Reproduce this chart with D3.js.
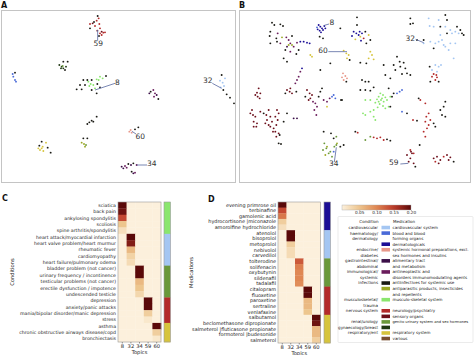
<!DOCTYPE html>
<html><head><meta charset="utf-8">
<script src="https://cdn.jsdelivr.net/npm/d3@7"></script>
<style>body{margin:0;background:#fff}svg{display:block;font-family:"DejaVu Sans",sans-serif}</style>
</head><body><svg id="c" width="474" height="355"></svg>
<script>
// ---------- categories (legend) ----------
const catColors = ["#a4c6f2","#4a6ad8","#1c0f96","#e8988a","#3b0f48","#6a1c5c","#1a1a14","#9aa824","#8ae66e","#b32a2a","#6c0e1a","#6a983a","#1f3812","#d6c43c","#7a5030"];
const legendCond = ["cardiovascular","haematology/","dermatology","","endocrine/","diabetes","gastrointestinal/","abdominal","immunological/","systemic","infections","","","musculoskeletal/","trauma","nervous system","","renal/urology","gynaecology/breast","respiratory/ent",""];
const legendMed = ["cardiovascular system","blood and blood","forming organs","dermatologicals","systemic hormonal preparations, excl.","sex hormones and insulins","alimentary tract","and metabolism","antineoplastic and","disorders  immunomodulating agents","antiinfectives for systemic use","antiparasitic products, insecticides","and repellents","musculo-skeletal system","","neurology/psychiatry","sensory organs","genito urinary system and sex hormones","","respiratory system","various"];
const legendSwatch = [0,1,-1,2,3,-1,4,-1,5,-1,6,7,-1,8,-1,9,10,11,12,13,14];

// ---------- heatmaps ----------
const topics = ["8","32","34","59","60"];
const conditions = ["sciatica","back pain","ankylosing spondylitis","scoliosis","spine arthritis/spondylitis","heart attack/myocardial infarction","heart valve problem/heart murmur","rheumatic fever","cardiomyopathy","heart failure/pulmonary odema","bladder problem (not cancer)","urinary frequency / incontinence","testicular problems (not cancer)","erectile dysfunction / impotence","undescended testicle","depression","anxiety/panic attacks","mania/bipolar disorder/manic depression","stress","asthma","chronic obstructive airways disease/copd","bronchiectasis"];
const condValues = [[0.2,0,0,0,0],[0.19,0,0,0,0],[0.14,0,0,0,0],[0.05,0,0,0,0],[0.02,0,0,0,0],
[0,0.2,0,0,0],[0,0.18,0,0,0],[0,0.06,0,0,0],[0,0.035,0,0,0],[0,0.025,0,0,0],
[0,0,0.2,0,0],[0,0,0.2,0,0],[0,0,0.06,0,0],[0,0,0.05,0,0],[0,0,0.03,0,0],
[0,0,0,0.2,0],[0,0,0,0.2,0],[0,0,0,0.04,0],[0,0,0,0.01,0],
[0,0,0,0,0.2],[0,0,0,0,0.04],[0,0,0,0,0.01]];
const condGroups = [[5,8],[5,0],[5,11],[4,9],[3,13]];
const medications = ["evening primrose oil","terbinafine","gamolenic acid","hydrocortisone |miconazole","amorolfine hydrochloride","atenolol","bisoprolol","metoprolol","nebivolol","carvedilol","tolterodine","solifenacin","oxybutynin","sildenafil","tadalafil","citalopram","fluoxetine","paroxetine","sertraline","venlafaxine","salbutamol","beclomethasone dipropionate","salmeterol |fluticasone propionate","formoterol |budesonide","salmeterol"];
const medValues = [[0.2,0,0,0,0],[0.14,0,0,0,0],[0.11,0,0,0,0],[0.04,0,0,0,0],[0.02,0,0,0,0],
[0,0.2,0,0,0],[0,0.2,0,0,0],[0,0.04,0,0,0],[0,0.025,0,0,0],[0,0.025,0,0,0],
[0,0,0.13,0,0],[0,0,0.105,0,0],[0,0,0.1,0,0],[0,0,0.1,0,0],[0,0,0.095,0,0],
[0,0,0,0.2,0],[0,0,0,0.2,0],[0,0,0,0.06,0],[0,0,0,0.06,0],[0,0,0,0.05,0],
[0,0,0,0,0.2],[0,0,0,0,0.19],[0,0,0,0,0.06],[0,0,0,0,0.06],[0,0,0,0,0.04]];
const medGroups = [[5,2],[5,0],[5,11],[5,9],[5,13]];
const cbTicks = [0.05,0.10,0.15,0.20];

// ---------- scatter (embedding units) ----------
const pointsA = [
[293,48,6],[296,55,9],[290,62,9],[282,66,6],[270,72,9],[278,70,10],[298,72,9],[285,78,9],[270,85,6],[300,85,9],[305,95,10],[310,98,9],[300,100,9],[305,105,9],[297,108,6],[315,97,9],[292,92,10],
[190,185,6],[203,185,6],[178,195,12],[185,200,12],[190,205,12],[195,210,6],[183,205,12],[198,200,12],[188,198,11],
[38,222,1],[45,218,6],[40,230,1],[45,240,1],[48,245,1],
[250,240,6],[262,240,6],[275,240,6],[290,238,8],[300,230,8],[308,235,8],[318,228,6],[240,255,6],[255,255,6],[268,258,8],[280,255,8],[292,252,6],[300,262,6],[285,265,8],[275,270,6],[290,280,6],[230,268,6],[245,268,6],[265,245,8],[296,240,8],[272,252,8],
[460,270,5],[452,275,6],[465,280,5],[470,285,4],[462,290,5],[475,297,6],[448,280,4],
[665,225,6],[675,235,0],[660,242,0],[668,248,0],[662,262,0],[670,270,6],[680,283,6],[690,293,6],[702,310,6],[672,258,0],
[290,350,6],[275,362,6],[268,367,6],[262,372,6],[280,365,6],
[415,382,6],[405,388,6],[392,390,3],[388,395,3],[395,398,3],
[125,425,6],[138,428,13],[118,437,6],[128,440,13],[143,443,6],[120,450,13],[130,453,13],[152,458,6],[115,445,13],[125,445,13],
[250,415,6],[262,415,6],[245,428,7],[252,432,7],[258,435,11],[255,440,7],
[365,500,4],[375,498,5],[385,492,6],[393,495,4],[400,490,6],[410,495,5],[370,505,4],[380,503,5],[395,515,6],[400,520,4],[405,518,5]];
const labelsA = [["59",295,138,293,90,293,122],["8",352,254,285,270,345,250],["32",623,248,637,250,665,265],["60",421,418,408,402,396,394],["34",455,498,410,495,441,495]];

const pointsB = [
[245,75,2],[250,80,2],[255,85,2],[242,88,2],[248,92,2],[258,90,2],[252,97,2],[262,78,2],[265,85,2],[240,82,1],[248,110,6],[258,115,6],[310,85,6],[200,125,2],[210,128,2],[218,130,2],
[105,68,6],[112,75,6],[130,73,6],[138,78,6],[100,95,6],[98,108,6],[122,100,5],[135,112,7],[148,112,5],[155,120,5],[165,108,6],[160,130,5],[150,140,4],[170,140,5],[145,150,6],[180,128,5],[120,125,6],[100,130,6],[160,155,5],[140,175,6],[150,185,6],[185,150,6],[178,162,6],[155,135,7],[165,135,7],[190,125,2],[118,115,6],[130,130,5],
[360,52,6],[360,75,6],[350,95,2],[358,100,2],[365,105,2],[370,110,13],[375,100,2],[380,115,9],[355,118,13],[372,122,2],[345,108,2],[385,95,6],[388,130,6],[395,105,13],[400,120,6],[368,95,2],
[320,152,13],[328,160,13],[335,165,13],[330,175,13],[338,180,6],[220,165,13],[225,170,13],[400,155,13],[405,165,13],[395,175,13],[410,178,13],[388,190,6],[370,188,6],[250,210,6],[280,190,6],
[575,55,0],[605,60,0],[578,78,0],[590,80,0],[625,80,0],[640,90,0],[655,95,0],[645,100,0],[665,100,0],[610,105,0],[615,120,0],[580,125,0],[595,130,0],[560,130,0],[625,140,0],[640,130,0],[655,130,0],[635,150,0],[650,175,0],[605,125,0],[620,135,0],
[520,55,6],[528,70,6],[520,72,6],[625,45,6],[630,60,6],[660,80,6],[670,90,6],[675,100,6],[610,80,6],[630,100,6],[560,120,6],[540,120,6],[590,145,6],[680,105,6],
[595,195,0],[605,200,0],[612,195,0],[585,210,0],[600,215,0],[590,222,9],[598,225,9],[585,230,9],[595,240,9],[580,245,6],[600,232,9],[578,200,6],[605,245,6],
[480,170,6],[488,185,6],[500,188,6],[470,195,6],[490,200,6],[505,205,6],[510,220,6],[495,222,6],[520,225,6],[440,195,6],[445,225,6],[460,235,6],[475,210,6],
[318,220,3],[325,228,3],[315,232,3],[330,235,3],[320,240,3],[328,245,6],[375,240,6],[385,245,6],[395,245,6],
[430,280,8],[438,285,8],[425,290,8],[445,292,8],[420,298,8],[432,300,8],[440,305,8],[450,300,8],[415,308,8],[428,312,8],[438,318,8],[422,322,8],[445,325,8],[410,330,8],[400,300,8],[385,300,8],[378,340,8],[385,345,8],[400,335,8],[410,350,8],[415,360,8],[460,290,8],[455,320,8],[435,295,8],[425,305,8],
[370,270,6],[385,270,6],[400,272,6],[410,262,6],[455,265,6],[470,280,6],[460,320,6],[465,290,6],[480,280,1],[488,275,1],[495,270,1],[315,300,6],
[195,205,2],[190,215,5],[185,230,5],[180,240,5],[175,250,5],[160,265,10],[150,270,10],[158,275,10],[165,280,10],[178,275,6],[145,280,6],
[210,270,10],[218,280,10],[225,285,10],[220,295,10],[228,305,5],[235,310,5],[240,320,5],[232,330,5],[238,345,5],[215,300,10],[205,290,6],[250,275,6],[245,290,6],[260,300,5],[270,305,5],[278,295,5],[285,290,1],[290,285,1],[295,295,1],[270,320,13],[312,300,6],[255,265,6],
[65,265,10],[60,278,10],[70,280,10],[62,290,10],[68,295,10],[55,285,10],[45,330,10],[40,340,10],[48,345,10],[55,350,10],[50,365,10],[60,370,10],[50,380,10],[58,380,10],[70,335,10],[80,340,6],[88,345,10],[95,330,10],[100,350,10],[90,360,10],[85,370,10],[95,375,10],[105,365,10],[115,350,10],[120,330,10],[125,340,10],[122,360,10],[118,375,10],[110,385,10],[115,395,10],[125,400,10],[128,405,6],[118,410,10],[125,430,6],[132,432,6],[108,395,10],[100,380,10],[140,365,6],[150,340,6],[170,355,4],[180,355,4],
[260,395,6],[282,400,6],[290,415,6],[298,410,11],[262,430,11],[270,440,7],[258,450,11],[265,465,7],[280,455,11],[292,440,11],[298,435,11],[300,430,7],[310,440,6],[320,435,6],[285,470,11],[275,460,11],[290,455,1],[268,445,11],
[355,395,6],[362,398,9],[385,420,11],[400,410,11],[410,412,9],[420,415,9],[430,412,9],[440,420,9],[450,418,6],[460,422,6],
[550,300,9],[565,310,9],[575,340,9],[568,350,9],[580,360,9],[565,365,9],[575,375,9],[570,385,9],[560,395,9],[565,410,9],[528,360,9],[540,362,6],[510,340,6],[495,335,1],[545,295,6],[610,330,6],[620,320,6],[625,305,6],[615,345,6],[625,350,6],[590,370,6],[595,380,6],[548,435,6],[520,450,9],[530,460,9],
[590,475,10],[600,470,10],[610,480,10],[620,470,9],[630,465,10],[640,472,10],[635,480,10],[605,490,10],[595,485,9],[650,485,6],
[515,485,10],[520,475,10],[525,460,10],[530,490,10],[522,455,10],[510,465,10],[535,500,6]];
const labelsB = [["8",285,76,262,76,276,72],["60",258,159,274,155,330,155],["32",520,122,536,118,560,128],["34",290,499,298,442,292,486],["59",470,496,490,492,514,490]];

// ---------- drawing ----------
const svg = d3.select("#c");
const font = "DejaVu Sans, sans-serif";

function scatter(points, labels, xr, yr, box) {
  const x = d3.scaleLinear().domain([0,711]).range(xr);
  const y = d3.scaleLinear().domain([0,510]).range(yr);
  svg.append("rect").attr("x",box[0]).attr("y",box[1]).attr("width",box[2]).attr("height",box[3])
    .attr("fill","none").attr("stroke","#c4c4c4").attr("stroke-width",1);
  const g = svg.append("g");
  g.selectAll("circle").data(points).join("circle")
    .attr("cx",d=>x(d[0])).attr("cy",d=>y(d[1])).attr("r",0.95)
    .attr("fill",d=>catColors[d[2]]);
  labels.forEach(l=>{
    g.append("line").attr("x1",x(l[3])).attr("y1",y(l[4])).attr("x2",x(l[5])).attr("y2",y(l[6]))
      .attr("stroke","#6a78aa").attr("stroke-width",0.9);
    g.append("text").attr("x",x(l[1])).attr("y",y(l[2])).attr("text-anchor","middle")
      .attr("font-size",7.5).attr("fill","#333").text(l[0]);
  });
}
scatter(pointsA, labelsA, [0,237], [0,170], [1.5,10.5,234,172]);
scatter(pointsB, labelsB, [237,474], [0,170], [239.5,10.5,231,172]);

// panel letters
[["A",1,7.5],["B",239,7.5],["C",2,201],["D",208,202]].forEach(p=>{
  svg.append("text").attr("x",p[1]).attr("y",p[2]).attr("font-weight","bold").attr("font-size",8).attr("fill","#111").text(p[0]);
});

const color = d3.scaleLinear().domain([0,0.05,0.1,0.15,0.2])
  .range(["#fcf0dc","#edc68e","#df8753","#bd3a2a","#5a0909"]).clamp(true);

function heatmap(rows, values, groups, xr, yr, barX, labelX, axisLabelX, axisLabel, fs) {
  const x = d3.scaleBand().domain(topics).range(xr);
  const y = d3.scaleBand().domain(rows).range(yr);
  const g = svg.append("g");
  rows.forEach((r,i)=>{
    g.selectAll(null).data(values[i]).join("rect")
      .attr("x",(d,j)=>x(topics[j])).attr("y",y(r)).attr("width",x.bandwidth()+0.3).attr("height",y.bandwidth()+0.3)
      .attr("fill",d=>color(d));
    g.append("text").attr("x",labelX).attr("y",y(r)+y.bandwidth()/2).attr("dy","0.35em")
      .attr("text-anchor","end").attr("font-size",fs).attr("fill","#222").text(r);
  });
  g.append("rect").attr("x",xr[0]).attr("y",yr[0]).attr("width",xr[1]-xr[0]).attr("height",yr[1]-yr[0])
    .attr("fill","none").attr("stroke","#999").attr("stroke-width",0.6);
  // x axis
  const ax = svg.append("g").attr("transform",`translate(0,${yr[1]})`)
    .call(d3.axisBottom(x).tickSize(1.5).tickPadding(1));
  ax.select(".domain").remove();
  ax.selectAll("line").attr("stroke","#333").attr("stroke-width",0.5);
  ax.selectAll("text").attr("font-size",5.2).attr("font-family",font).attr("fill","#222");
  svg.append("text").attr("x",(xr[0]+xr[1])/2).attr("y",yr[1]+11.5).attr("text-anchor","middle")
    .attr("font-size",5.2).attr("fill","#222").text("Topics");
  // side group bar
  let start = 0;
  groups.forEach(gp=>{
    svg.append("rect").attr("x",barX).attr("y",y(rows[start])).attr("width",6.5).attr("height",y.bandwidth()*gp[0]+0.3)
      .attr("fill",catColors[gp[1]]);
    start += gp[0];
  });
  svg.append("rect").attr("x",barX).attr("y",yr[0]).attr("width",6.5).attr("height",yr[1]-yr[0])
    .attr("fill","none").attr("stroke","#999").attr("stroke-width",0.6);
  svg.append("text").attr("transform",`translate(${axisLabelX},${(yr[0]+yr[1])/2}) rotate(-90)`)
    .attr("text-anchor","middle").attr("font-size",5.2).attr("fill","#222").text(axisLabel);
}
heatmap(conditions, condValues, condGroups, [118,161], [202,342], 164, 116, 14, "Conditions", 4.7);
heatmap(medications, medValues, medGroups, [278,320.5], [202,343], 324, 276, 193, "Medications", 4.9);

// colour bar
const cbx = d3.scaleLinear().domain([0,0.2]).range([342,411]);
const defs = svg.append("defs");
const grad = defs.append("linearGradient").attr("id","cbg");
d3.range(0,1.001,0.1).forEach(t=>grad.append("stop").attr("offset",t).attr("stop-color",color(t*0.2)));
svg.append("rect").attr("x",342).attr("y",205).attr("width",69).attr("height",5).attr("fill","url(#cbg)")
  .attr("stroke","#aaa").attr("stroke-width",0.4);
const cba = svg.append("g").attr("transform","translate(0,210)").call(d3.axisBottom(cbx).tickValues(cbTicks).tickFormat(d3.format(".2f")).tickSize(1).tickPadding(0.5));
cba.select(".domain").remove();
cba.selectAll("line").attr("stroke","#555").attr("stroke-width",0.4);
cba.selectAll("text").attr("font-size",4.2).attr("font-family",font).attr("fill","#222");

// legend
svg.append("rect").attr("x",338).attr("y",216.5).attr("width",135).attr("height",126)
  .attr("fill","#fff").attr("stroke","#ddd").attr("stroke-width",0.6).attr("rx",1);
const ly = i => 222 + 5.55*i;
const lfs = 4.05;
svg.append("text").attr("x",369).attr("y",ly(0)).attr("dy","0.35em").attr("text-anchor","middle").attr("font-size",lfs).attr("fill","#222").text("Condition");
svg.append("text").attr("x",393).attr("y",ly(0)).attr("dy","0.35em").attr("font-size",lfs).attr("fill","#222").text("Medication");
legendMed.forEach((m,i)=>{
  const yy = ly(i+1);
  if (legendCond[i]) svg.append("text").attr("x",378).attr("y",yy).attr("dy","0.35em").attr("text-anchor","end").attr("font-size",lfs).attr("fill","#222").text(legendCond[i]);
  if (legendSwatch[i] >= 0) svg.append("rect").attr("x",381.5).attr("y",yy-1.8).attr("width",8.5).attr("height",3.6).attr("fill",catColors[legendSwatch[i]]);
  if (m) {
    const t = svg.append("text").attr("x",392.5).attr("y",yy).attr("dy","0.35em").attr("font-size",lfs).attr("fill","#222").text(m);
    const w = t.node().getComputedTextLength();
    if (w > 76) t.attr("font-size", lfs*76/w);
  }
});
</script></body></html>
